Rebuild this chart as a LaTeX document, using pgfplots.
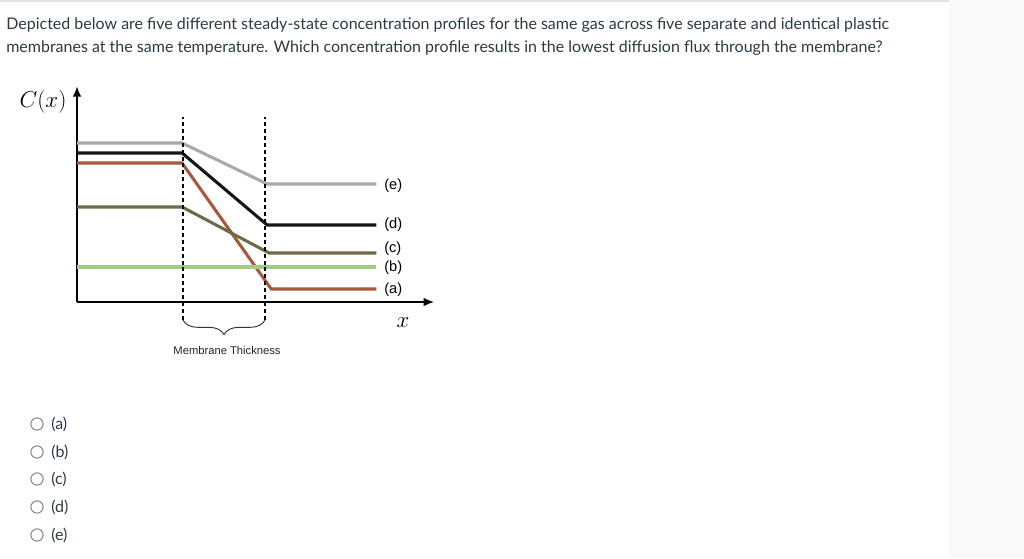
\documentclass[border=0pt]{standalone}
\usepackage{pgfplots}
\pgfplotsset{compat=1.18}
\usepackage{fontspec}
\setmainfont{Lato}
\newfontfamily\helv{Liberation Sans}
\usetikzlibrary{arrows.meta,decorations.pathreplacing}
\definecolor{txt}{HTML}{2D3B45}
\definecolor{panel}{HTML}{F9F9F9}
\definecolor{border}{HTML}{E4E4E4}
\definecolor{pe}{HTML}{A9A9A9}
\definecolor{pd}{HTML}{151515}
\definecolor{pa}{HTML}{A55A3C}
\definecolor{pc}{HTML}{6D6A47}
\definecolor{pb}{HTML}{A2CD80}
\definecolor{radio}{HTML}{8A8A8A}

\pgfplotstableread{
x y
0 159
105 159
190 118
299 118
}\profE
\pgfplotstableread{
x y
0 149
105 149
190 77
299 77
}\profD
\pgfplotstableread{
x y
0 139
105 139
194 13
299 13
}\profA
\pgfplotstableread{
x y
0 95
105 95
192 49
299 49
}\profC
\pgfplotstableread{
x y
0 35
299 35
}\profB

\begin{document}
\begin{tikzpicture}
\begin{scope}[x=0.75pt,y=-0.75pt]
\useasboundingbox (0,0) rectangle (1024,558);
\fill[white] (0,0) rectangle (1024,558);
\fill[panel] (949,0) rectangle (1024,558);
\draw[border, line width=1.2pt] (0,1) -- (949,1);

\node[anchor=base west, inner sep=0pt, text=txt, font=\fontsize{12}{14}\selectfont] at (6,29)
  {Depicted below are five different steady-state concentration profiles for the same gas across five separate and identical plastic};
\node[anchor=base west, inner sep=0pt, text=txt, font=\fontsize{12}{14}\selectfont] at (6,52)
  {membranes at the same temperature. Which concentration profile results in the lowest diffusion flux through the membrane?};

\draw[black!80, line width=0.7pt, decorate, decoration={brace, mirror, amplitude=11pt}] (183,320) -- (265,320);
\node[font=\helv\fontsize{8.4}{10}\selectfont, text=black!85] at (227,350) {Membrane Thickness};

\foreach \lab/\yy in {(e)/186,(d)/225,(c)/249,(b)/268,(a)/290}
  \node[anchor=west, inner sep=0pt, font=\helv\fontsize{11}{12}\selectfont] at (384,\yy) {\lab};

\node[font=\fontsize{17}{17}\selectfont] at (43,102) {$C(x)$};
\node[font=\fontsize{17}{17}\selectfont] at (403,323) {$x$};

\foreach \lab/\yy in {(a)/424,(b)/452,(c)/479,(d)/507,(e)/535} {
  \draw[radio, line width=0.8pt] (37,\yy) circle [radius=4.6pt];
  \node[anchor=west, inner sep=0pt, text=txt, font=\fontsize{12}{14}\selectfont] at (51,\yy) {\lab};
}
\end{scope}

\begin{axis}[
  at={(57.75pt,-226.5pt)}, anchor=south west,
  scale only axis, width=268pt, height=162pt,
  xmin=0, xmax=357, ymin=0, ymax=216,
  axis lines=left, ticks=none, clip=false,
  axis line style={line width=1.5pt, -{Latex[length=8pt,width=6.5pt]}},
]
\addplot[pe, line width=2.3pt] table {\profE};
\addplot[pd, line width=2.3pt] table {\profD};
\addplot[pa, line width=2.3pt] table {\profA};
\addplot[pc, line width=2.3pt] table {\profC};
\addplot[pb, line width=2.3pt] table {\profB};
\addplot[black, line width=1.5pt, dash pattern=on 3pt off 2.2pt] coordinates {(106,-18) (106,185)};
\addplot[black, line width=1.5pt, dash pattern=on 3pt off 2.2pt] coordinates {(188,-18) (188,185)};
\end{axis}
\end{tikzpicture}
\end{document}
